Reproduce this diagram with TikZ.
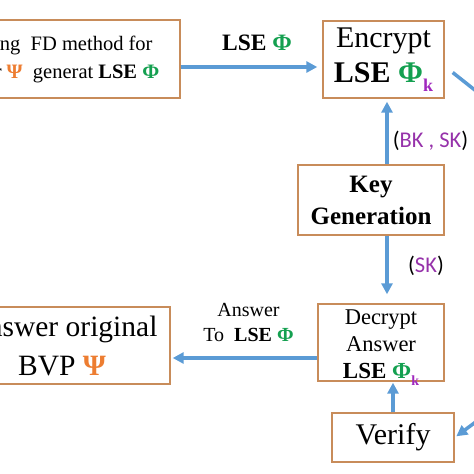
\documentclass[tikz,border=0pt]{standalone}
\usepackage{fontspec}
\setmainfont{Liberation Serif}
\newfontfamily\lblfont{Carlito}
\usetikzlibrary{arrows.meta}
\definecolor{boxc}{RGB}{200,140,90}
\definecolor{arrc}{RGB}{91,155,213}
\definecolor{phig}{RGB}{20,160,80}
\definecolor{psio}{RGB}{237,125,49}
\definecolor{kpur}{RGB}{160,40,190}
\definecolor{lblp}{RGB}{150,50,170}
\newcommand{\Phig}{\textcolor{phig}{\bfseries Φ}}
\newcommand{\Psio}{\textcolor{psio}{\bfseries Ψ}}
\newcommand{\subk}[1]{\raisebox{-0.3em}{\fontsize{#1}{#1}\selectfont\bfseries\textcolor{kpur}{k}}}
\begin{document}
\begin{tikzpicture}[x=1pt,y=-1pt,
  box/.style={draw=boxc,line width=1.4pt,inner sep=0pt,align=center,fill=white},
  arr/.style={draw=arrc,line width=3.5pt,-{Triangle[length=11pt,width=11pt]}},
  plainline/.style={draw=arrc,line width=3.5pt},
  lbl/.style={inner sep=0pt,align=center}]
\useasboundingbox (0,0) rectangle (474,474);
\clip (0,0) rectangle (474,474);
% boxes
\node[box,minimum width=236pt,minimum height=78pt,font=\fontsize{20.5}{28}\selectfont] (fd) at (62,59)
  {Using\ \ FD method for\\\hspace*{13pt}for \Psio\ \ generat \textbf{LSE} \Phig};
\node[box,minimum width=121pt,minimum height=77pt,font=\fontsize{30}{35}\selectfont] (enc) at (383.5,59.5)
  {Encrypt\\ \fontsize{30}{35}\selectfont\bfseries LSE \textcolor{phig}{Φ}\subk{18}};
\node[box,minimum width=146pt,minimum height=70pt,font=\fontsize{25}{32}\selectfont\bfseries] (kg) at (371,200)
  {Key\\Generation};
\node[box,minimum width=126pt,minimum height=77pt] (dec) at (381,342.5) {};
\node[lbl,font=\fontsize{22.5}{27}\selectfont] (dect) at (381,347.5)
  {Decrypt\\Answer\\ \fontsize{23}{29}\selectfont\bfseries LSE \textcolor{phig}{Φ}\subk{14}};
\node[box,minimum width=122pt,minimum height=49pt,font=\fontsize{30}{30}\selectfont] (ver) at (393,437.5)
  {Verify};
\node[box,minimum width=216pt,minimum height=77pt,font=\fontsize{29.5}{39}\selectfont] (ans) at (62,345.5)
  {Answer original\\BVP \Psio};
% labels
\node[lbl,font=\fontsize{23.5}{23.5}\selectfont\bfseries] (l1) at (257,43) {LSE \textcolor{phig}{Φ}};
\node[lbl,font=\fontsize{20}{25}\selectfont] (l2) at (248.5,322) {Answer\\To\ \ \textbf{LSE} \Phig};
\node[lbl,font=\lblfont\fontsize{22.5}{22.5}\selectfont] (l3) at (430.5,141) {(\textcolor{lblp}{BK , SK})};
\node[lbl,font=\lblfont\fontsize{22.5}{22.5}\selectfont] (l4) at (426,266) {(\textcolor{lblp}{SK})};
% coordinates
\coordinate (fde) at ([yshift=-8pt]fd.east);
\coordinate (kgt) at ([xshift=16pt]kg.north);
\coordinate (kgb) at ([xshift=16pt]kg.south);
\coordinate (dw) at ([yshift=-15.5pt]dec.west);
\coordinate (es) at ([shift={(8pt,-13pt)}]enc.east);
\coordinate (e1) at (500,110);
\coordinate (v1) at (500,404);
% connectors
\draw[arr,shorten >=5pt] (fde) -- (fde -| enc.west);
\draw[arr,shorten >=3pt] (kgt) -- (kgt |- enc.south);
\draw[arr,shorten >=9pt] (kgb) -- (kgb |- dec.north);
\draw[arr,shorten >=1pt] (ver.north) -- (ver.north |- dec.south);
\draw[arr,shorten >=2pt] (dw) -- (dw -| ans.east);
\draw[plainline] (es) -- (e1);
\draw[arr,shorten >=2pt] (v1) -- (ver.east);
\end{tikzpicture}
\end{document}
